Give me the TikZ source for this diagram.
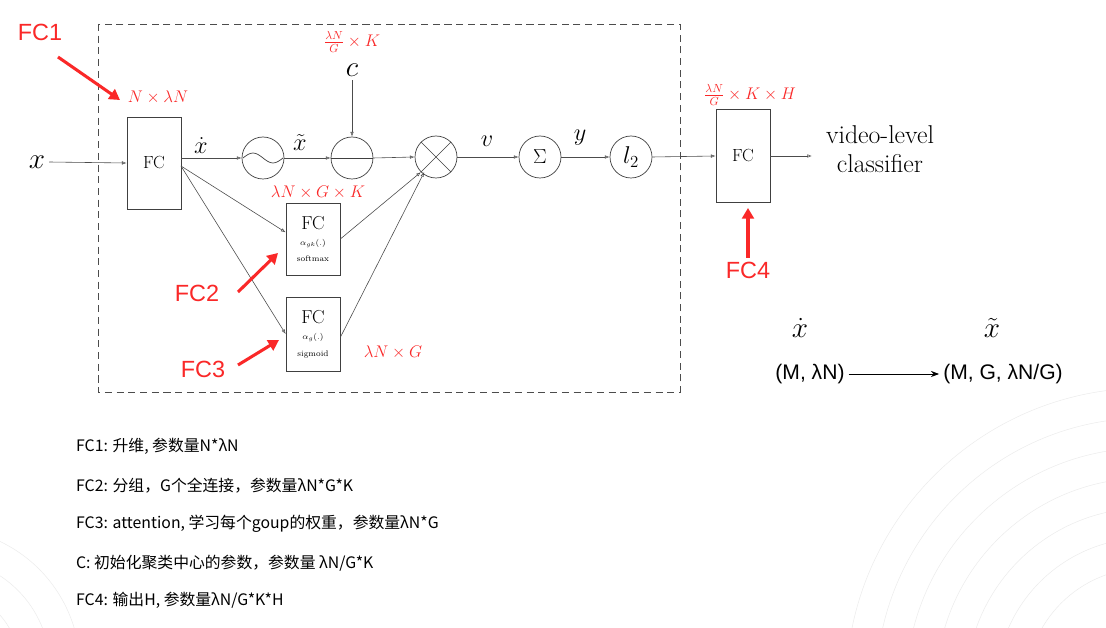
\documentclass[tikz,border=0pt]{standalone}
\usepackage{fontspec}
\usepackage{amsmath}
\newfontfamily\cjk{Noto Sans CJK SC}
\newfontfamily\hsans{Liberation Sans}
\usetikzlibrary{arrows.meta}
\definecolor{rd}{RGB}{250,40,40}
\begin{document}
\begin{tikzpicture}[x=0.03cm,y=-0.03cm,
  ar/.style={draw=black!70,line width=0.5pt,-{Latex[open,length=4pt,width=3pt]}},
  box/.style={draw=black!75,line width=0.6pt,inner sep=0pt},
  circ/.style={draw=black!75,line width=0.6pt,circle,minimum size=42*0.03cm,inner sep=0pt},
  red/.style={text=rd,font=\fontsize{14}{16}\selectfont},
  big/.style={->,draw=rd,line width=2.6pt,-{Triangle[length=9pt,width=10pt]}},
  lab/.style={text=rd,font=\hsans\fontsize{20}{22}\selectfont},
  ml/.style={font=\fontsize{20}{20}\selectfont},
  ln/.style={anchor=west,font=\cjk\fontsize{13.5}{15}\selectfont}]
\useasboundingbox (0,0) rectangle (1106,628);
\fill[white] (0,0) rectangle (1106,628);
\foreach \r in {120,150,180,210,240,270,300}
  \draw[black!8] (1106+40,628+60) circle (\r);
\foreach \r in {80,110,140}
  \draw[black!8] (-60,628+40) circle (\r);
\draw[black!70,line width=0.6pt,dash pattern=on 6pt off 4pt] (98,24) rectangle (680,392);
% nodes
\node (xin) at (37,162) {\fontsize{26}{26}\selectfont$x$};
\node[box,minimum width=54*0.03cm,minimum height=92*0.03cm,font=\fontsize{15}{15}\selectfont] (fc1) at (154,163) {FC};
\node[circ] (sin) at (263,158) {};
\draw[black!75,line width=0.6pt] ([xshift=-0.6cm]sin.center) sin ([xshift=-0.3cm,yshift=0.15cm]sin.center) cos (sin.center) sin ([xshift=0.3cm,yshift=-0.15cm]sin.center) cos ([xshift=0.6cm]sin.center);
\node[circ] (cc) at (352,158) {};
\draw[black!75] (cc.west) -- (cc.east);
\node[circ] (ot) at (436,157) {};
\draw[black!75] (ot.north west) -- (ot.south east) (ot.north east) -- (ot.south west);
\node[circ,font=\fontsize{19}{19}\selectfont] (sig) at (540,157) {$\Sigma$};
\node[circ,font=\fontsize{20}{20}\selectfont] (l2) at (631,157) {$l_2$};
\node[box,minimum width=54*0.03cm,minimum height=93*0.03cm,font=\fontsize{15}{15}\selectfont] (fc4) at (743,156) {FC};
\node[align=center,font=\fontsize{22}{25}\selectfont] (vid) at (880,149) {video-level\\classifier};
\node[box,minimum width=54*0.03cm,minimum height=72*0.03cm,align=center,font=\fontsize{16}{16}\selectfont] (fc2) at (313,239) {FC\\[-2pt]{\scriptsize$\alpha_{gk}(.)$}\\[-2pt]{\scriptsize softmax}};
\node[box,minimum width=54*0.03cm,minimum height=74*0.03cm,align=center,font=\fontsize{16}{16}\selectfont] (fc3) at (313,334) {FC\\[-2pt]{\scriptsize$\alpha_{g}(.)$}\\[-2pt]{\scriptsize sigmoid}};
\node (C) at (352,70) {\fontsize{34}{34}\selectfont$c$};
\node[ml] at (201,146) {$\dot{x}$};
\node[ml] at (300,143) {$\tilde{x}$};
\node[ml] at (487,141) {$v$};
\node[ml] at (580,138) {$y$};
\node[red] at (158,97) {$N\times\lambda N$};
\node[red] at (352,42) {$\frac{\lambda N}{G}\times K$};
\node[red] at (750,95) {$\frac{\lambda N}{G}\times K\times H$};
\node[red] at (318,192) {$\lambda N\times G\times K$};
\node[red] at (393,352) {$\lambda N\times G$};
% connectors
\draw[ar] (xin.east) -- (fc1.west);
\draw[ar] (fc1.east |- sin) -- (sin.west);
\draw[ar] (sin.east) -- (cc.west);
\draw[ar] (C.south) -- (cc.north);
\draw[ar] (cc.east) -- (ot.west);
\draw[ar] (ot.east) -- (sig.west);
\draw[ar] (sig.east) -- (l2.west);
\draw[ar] (l2.east) -- (fc4.west);
\coordinate (ve) at (812,156);
\draw[ar] (fc4.east) -- (ve);
\coordinate (fo) at (181,166);
\draw[ar] (fo) -- ([yshift=0.2cm]fc2.west);
\draw[ar] (fo) -- (fc3.west);
\draw[ar] (fc2.east) -- (ot.south west);
\draw[ar] ([yshift=-0.1cm]fc3.east) -- ([xshift=0.1cm]ot.south west);
% big red arrows
\node[lab] (l1) at (40,32) {FC1};
\node[lab] (l2r) at (197,293) {FC2};
\node[lab] (l3) at (203,369) {FC3};
\node[lab] (l4) at (748,270) {FC4};
\coordinate (t1) at (120,100);
\coordinate (t2) at (278,253);
\coordinate (t3) at (279,340);
\coordinate (t4) at (748,208);
\draw[big] (58,57) -- (t1);
\draw[big] (238,292) -- (t2);
\draw[big] (238,365) -- (t3);
\draw[big] (l4.north) -- (t4);
% right side
\node (xd) at (800,328) {\fontsize{24}{24}\selectfont$\dot{x}$};
\node (xt) at (992,328) {\fontsize{24}{24}\selectfont$\tilde{x}$};
\node[font=\hsans\fontsize{18}{20}\selectfont] (m1) at (810,374) {(M, λN)};
\node[font=\hsans\fontsize{18}{20}\selectfont] (m2) at (1003,374) {(M, G, λN/G)};
\draw[line width=0.8pt,-{Stealth[length=7pt]}] (m1.east) -- (m2.west);
% bottom text
\node[ln] at (72,446) {FC1: 升维, 参数量N*λN};
\node[ln] at (72,486) {FC2: 分组，G个全连接，参数量λN*G*K};
\node[ln] at (72,524) {FC3: attention, 学习每个goup的权重，参数量λN*G};
\node[ln] at (72,563) {C:  初始化聚类中心的参数，参数量 λN/G*K};
\node[ln] at (72,600) {FC4: 输出H, 参数量λN/G*K*H};
\end{tikzpicture}
\end{document}
